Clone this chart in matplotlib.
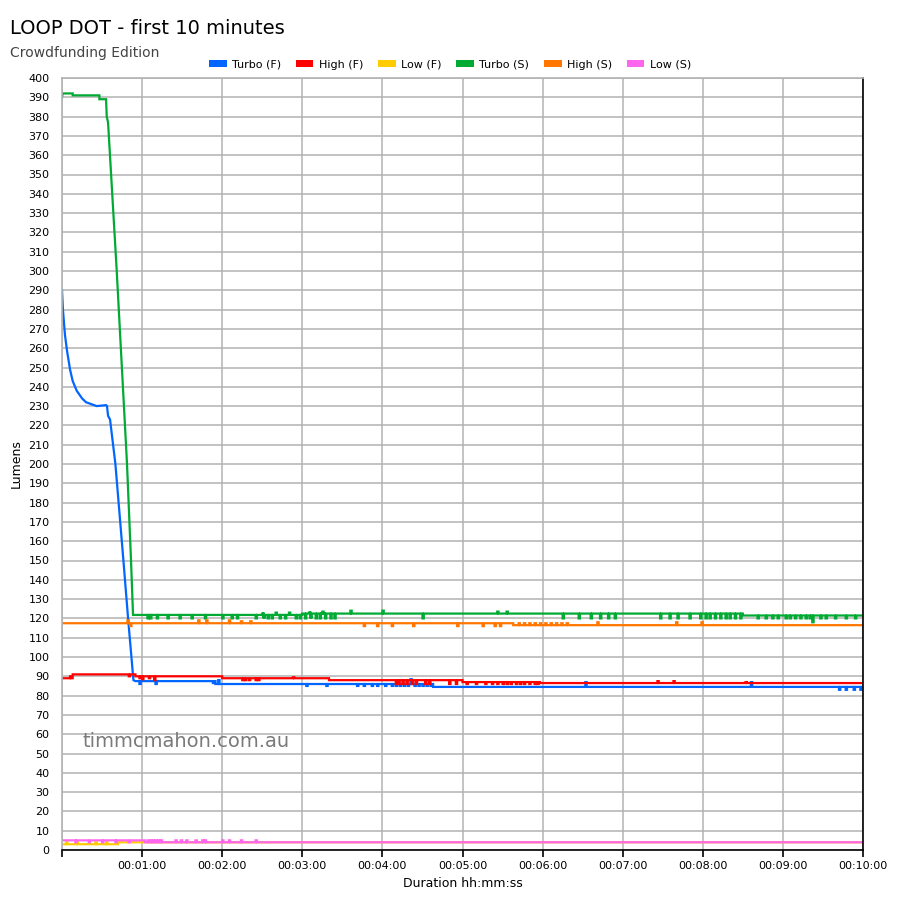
import matplotlib
matplotlib.use("Agg")
import matplotlib.pyplot as plt
from matplotlib.patches import Patch
import numpy as np

# times in seconds, values in lumens
turbo_f_t = [0, 0.7, 2.2, 3.7, 6, 8, 11, 15, 18, 26, 33, 33.7, 34.5, 36, 40, 46, 49.5, 52, 53.5, 55, 115, 115, 278, 278, 600]
turbo_f_v = [290, 280, 267, 259, 249, 243, 238, 234, 232, 230, 230.5, 230, 225, 223, 200, 150, 120, 100, 88, 87.5, 87.5, 86, 86, 84.5, 84.5]
turbo_f_spikes = [(58, 86), (70, 86), (113, 86.5), (117, 88), (183, 85), (198, 85), (221, 85), (226, 85),
                  (232, 85), (236, 85), (242, 85), (247, 85), (250, 85), (253, 85), (256, 85), (259, 85),
                  (261, 88.5), (264, 85), (267, 85), (270, 85), (273, 85), (276, 85), (392, 87), (516, 87),
                  (582, 83), (587, 83), (593, 83), (598, 83)]

high_f_t = [0, 8, 8, 55, 55, 120, 120, 200, 200, 300, 300, 358, 358, 600]
high_f_v = [89, 89, 91, 91, 90, 90, 89, 89, 88, 88, 87, 87, 86.5, 86.5]
high_f_spikes = [(6, 90), (50, 90), (58, 89), (60, 88.5), (65, 89), (69, 88), (73, 90), (135, 88), (137, 88),
                 (140, 88), (145, 88), (147, 88), (173, 89.5), (250, 86), (252, 86), (255, 86), (258, 86),
                 (262, 86), (265, 86), (272, 86), (275, 86), (290, 86), (295, 86), (303, 86), (310, 86),
                 (317, 86), (322, 86), (326, 86), (330, 86), (333, 86), (336, 86), (340, 86), (343, 86),
                 (346, 86), (350, 86), (354, 86), (356, 86), (446, 87.5), (458, 87.5), (512, 87)]

low_f_t = [0, 42, 42, 600]
low_f_v = [3, 3, 4, 4]
low_f_spikes = [(3, 4), (11, 4), (25, 4), (33, 4)]

turbo_s_t = [0, 0.5, 8, 8, 28, 28, 33, 33.5, 34.5, 41, 48.7, 51.7, 53.2, 180, 180, 510, 510, 600]
turbo_s_v = [390, 392, 392, 391, 391, 389, 389, 380, 377, 300, 200, 150, 121.8, 121.8, 122.5, 122.5, 121.5, 121.5]
turbo_s_dips = [64, 66, 71, 79, 88, 97, 107, 120, 127, 131, 145, 151, 154, 157, 163, 167, 175, 178, 182, 186,
                190, 193, 197, 201, 204, 270, 375, 387, 396, 403, 409, 414, 448, 455, 461, 470, 478, 482,
                485, 489, 493, 497, 500, 504, 508, 521, 527, 532, 536, 542, 545, 549, 553, 557, 560, 568,
                572, 579, 587, 594]
turbo_s_spikes = [(t, 120) for t in turbo_s_dips] + [(150, 123), (160, 123), (170, 123), (185, 123.5),
                                                     (195, 123.5), (216, 124), (240, 124), (326, 123.5),
                                                     (333, 123.5), (562, 118)]

high_s_t = [0, 338, 338, 600]
high_s_v = [117.5, 117.5, 116.5, 116.5]
high_s_spikes = [(49, 119), (51, 116), (102, 119), (108, 119), (125, 119), (134, 118.5), (141, 118.5),
                 (226, 116), (236, 116), (247, 116), (263, 116), (296, 116), (315, 116), (324, 116),
                 (328, 116), (342, 117.5), (346, 117.5), (350, 117.5), (354, 117.5), (358, 117.5),
                 (362, 117.5), (366, 117.5), (370, 117.5), (374, 117.5), (378, 117.5), (401, 118),
                 (460, 118), (479, 118)]

low_s_t = [0, 62, 62, 600]
low_s_v = [5, 5, 4, 4]
low_s_spikes = [(10, 4), (20, 4), (30, 4), (40, 4), (50, 4), (64, 5), (66, 5), (68, 5), (70, 5), (72, 5),
                (74, 5), (85, 5), (89, 5), (93, 5), (100, 5), (105, 5), (107, 5), (120, 5), (125, 5),
                (134, 5), (145, 5)]

labels = ["Turbo (F)", "High (F)", "Low (F)", "Turbo (S)", "High (S)", "Low (S)"]
colors = ["#0066ff", "#ff0000", "#ffcc00", "#00aa33", "#ff7700", "#ff66ee"]


def build(ts, vs, spikes):
    pts = [(a, b) for a, b in zip(ts, vs)]
    for st, sv in spikes:
        b0 = float(np.interp(st - 0.01, ts, vs))
        b1 = float(np.interp(st + 1.01, ts, vs))
        pts += [(st - 0.01, b0), (st, sv), (st + 1.0, sv), (st + 1.01, b1)]
    pts.sort(key=lambda p: p[0])
    return [p[0] for p in pts], [p[1] for p in pts]


series = [
    build(turbo_f_t, turbo_f_v, turbo_f_spikes),
    build(high_f_t, high_f_v, high_f_spikes),
    build(low_f_t, low_f_v, low_f_spikes),
    build(turbo_s_t, turbo_s_v, turbo_s_spikes),
    build(high_s_t, high_s_v, high_s_spikes),
    build(low_s_t, low_s_v, low_s_spikes),
]

fig = plt.figure(figsize=(9, 9), dpi=100)
ax = fig.add_axes([62 / 900, 50 / 900, 801 / 900, 772 / 900])

for (t, v), c in zip(series, colors):
    ax.plot(t, v, color=c, lw=1.6, solid_joinstyle="miter")

ax.set_xlim(0, 600)
ax.set_ylim(0, 400)
ax.set_yticks(range(0, 401, 10))
ax.set_xticks(range(0, 601, 60))
ax.set_xticklabels([""] + ["00:%02d:00" % m for m in range(1, 11)])
ax.grid(True, color="#b3b3b3", lw=1.1)
ax.set_axisbelow(True)
ax.tick_params(axis="y", length=0, pad=9, labelsize=8)
ax.tick_params(axis="x", length=5, width=1.2, color="black", pad=3, labelsize=8)
ax.spines["left"].set_color("#b3b3b3")
ax.spines["top"].set_color("#b3b3b3")
ax.spines["bottom"].set_color("black")
ax.spines["right"].set_color("black")
for s in ax.spines.values():
    s.set_linewidth(1.2)

ax.set_xlabel("Duration hh:mm:ss", fontsize=9, labelpad=4)
ax.set_ylabel("Lumens", fontsize=9, labelpad=4)

ax.text(0.025, 0.141, "timmcmahon.com.au", transform=ax.transAxes, fontsize=14,
        color="#7a7a7a", va="center", ha="left")

fig.text(0.011, 0.962, "LOOP DOT - first 10 minutes", fontsize=14, va="baseline", ha="left")
fig.text(0.011, 0.9367, "Crowdfunding Edition", fontsize=10, color="#444444", va="baseline", ha="left")

handles = [Patch(facecolor=c, edgecolor="none") for c in colors]
fig.legend(handles, labels, loc="center", bbox_to_anchor=(0.5, 0.928), ncol=6, frameon=False,
           fontsize=8, handlelength=1.6, handleheight=0.6, columnspacing=1.3, handletextpad=0.5)

fig.savefig("out.png", dpi=100)
